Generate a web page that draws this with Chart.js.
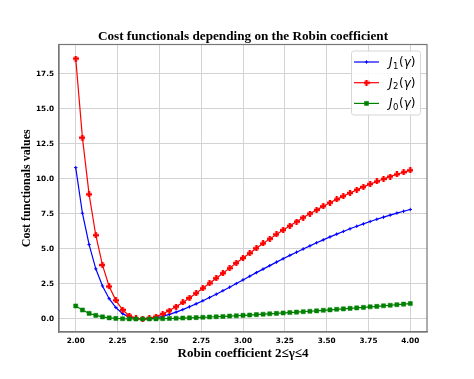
<!DOCTYPE html>
<html>
<head>
<meta charset="utf-8">
<script src="https://cdn.jsdelivr.net/npm/chart.js@4"></script>
<style>
html,body{margin:0;padding:0;background:#fff;}
#wrap{width:474px;height:379px;}
</style>
</head>
<body>
<div id="wrap"><canvas id="c" width="474" height="379"></canvas></div>
<script>
const gamma = [2.00,2.04,2.08,2.12,2.16,2.20,2.24,2.28,2.32,2.36,2.40,2.44,2.48,2.52,2.56,2.60,2.64,2.68,2.72,2.76,2.80,2.84,2.88,2.92,2.96,3.00,3.04,3.08,3.12,3.16,3.20,3.24,3.28,3.32,3.36,3.40,3.44,3.48,3.52,3.56,3.60,3.64,3.68,3.72,3.76,3.80,3.84,3.88,3.92,3.96,4.00];
const J1 = [10.81,7.55,5.31,3.58,2.36,1.45,0.82,0.38,0.13,0.02,0.00,0.02,0.08,0.19,0.33,0.49,0.67,0.87,1.08,1.30,1.53,1.77,2.02,2.27,2.53,2.79,3.05,3.31,3.56,3.81,4.06,4.30,4.54,4.77,5.00,5.22,5.44,5.65,5.86,6.06,6.25,6.44,6.62,6.79,6.96,7.12,7.27,7.42,7.56,7.69,7.82];
const J2 = [18.60,12.95,8.90,5.98,3.85,2.32,1.33,0.65,0.24,0.04,0.00,0.05,0.17,0.36,0.60,0.88,1.18,1.50,1.84,2.19,2.55,2.91,3.27,3.63,3.99,4.35,4.70,5.05,5.39,5.72,6.04,6.35,6.65,6.95,7.24,7.52,7.79,8.05,8.30,8.54,8.77,9.00,9.22,9.43,9.63,9.82,10.00,10.17,10.33,10.48,10.62];
const J0 = [0.93,0.64,0.40,0.26,0.15,0.08,0.04,0.015,0.004,0.0,0.0,0.003,0.01,0.02,0.035,0.05,0.065,0.08,0.10,0.12,0.14,0.16,0.18,0.21,0.23,0.26,0.28,0.31,0.34,0.37,0.40,0.43,0.46,0.49,0.52,0.55,0.58,0.62,0.65,0.69,0.72,0.76,0.79,0.83,0.87,0.90,0.94,0.98,1.02,1.06,1.10];
const xTicks = [2.00,2.25,2.50,2.75,3.00,3.25,3.50,3.75,4.00];
const yTicks = [0.0,2.5,5.0,7.5,10.0,12.5,15.0,17.5];
const seriesNames = [['J','1'],['J','2'],['J','0']];

// filled plus marker (matplotlib 'P')
function plusMarker(size, color){
  const c = document.createElement('canvas');
  c.width = size; c.height = size;
  const g = c.getContext('2d');
  g.fillStyle = color;
  const a = size*0.4, o = (size-a)/2;
  g.fillRect(o,0,a,size);
  g.fillRect(0,o,size,a);
  return c;
}
const redPlus = plusMarker(6,'#ff0000');

const blue='#0000ff', red='#ff0000', green='#008000';

const legendPlugin = {
  id:'mplLegend',
  afterDraw(chart){
    const ctx = chart.ctx, ca = chart.chartArea;
    const w=70, h=65;
    const x0 = ca.right-6-w, y0 = ca.top+6;
    ctx.save();
    ctx.fillStyle='rgba(255,255,255,0.85)';
    ctx.strokeStyle='#d6d6d6';
    ctx.lineWidth=1;
    const r=3;
    ctx.beginPath();
    ctx.moveTo(x0+r,y0+0.5);ctx.lineTo(x0+w-r,y0+0.5);ctx.quadraticCurveTo(x0+w-0.5,y0+0.5,x0+w-0.5,y0+r);
    ctx.lineTo(x0+w-0.5,y0+h-r);ctx.quadraticCurveTo(x0+w-0.5,y0+h-0.5,x0+w-r,y0+h-0.5);
    ctx.lineTo(x0+r,y0+h-0.5);ctx.quadraticCurveTo(x0+0.5,y0+h-0.5,x0+0.5,y0+h-r);
    ctx.lineTo(x0+0.5,y0+r);ctx.quadraticCurveTo(x0+0.5,y0+0.5,x0+r,y0+0.5);
    ctx.closePath();ctx.fill();ctx.stroke();
    chart.data.datasets.forEach((ds,i)=>{
      const yy = y0+11.5+i*20.7;
      const lx0 = x0+3, lx1 = x0+28, mx=(lx0+lx1)/2;
      ctx.strokeStyle = ds.borderColor; ctx.lineWidth = ds.borderWidth;
      ctx.beginPath(); ctx.moveTo(lx0,yy); ctx.lineTo(lx1,yy); ctx.stroke();
      if (ds.pointStyle instanceof HTMLCanvasElement){
        ctx.drawImage(ds.pointStyle, mx-ds.pointStyle.width/2, yy-ds.pointStyle.height/2);
      } else {
        ctx.fillStyle=ds.pointBackgroundColor; ctx.strokeStyle=ds.pointBorderColor; ctx.lineWidth=ds.pointBorderWidth||1;
        Chart.helpers.drawPoint(ctx,{pointStyle:ds.pointStyle,radius:ds.pointRadius,borderWidth:ds.pointBorderWidth||1},mx,yy);
      }
      const nm = seriesNames[i];
      let tx = x0+38;
      ctx.fillStyle='#000'; ctx.textBaseline='alphabetic'; ctx.textAlign='left';
      const base = yy+4;
      ctx.font='italic 12px "DejaVu Sans"'; ctx.fillText(nm[0],tx,base); tx+=ctx.measureText(nm[0]).width+0.5;
      ctx.font='8.5px "DejaVu Sans"'; ctx.fillText(nm[1],tx,base+2.5); tx+=ctx.measureText(nm[1]).width+0.5;
      ctx.font='12px "DejaVu Sans"'; ctx.fillText('(',tx,base); tx+=ctx.measureText('(').width;
      ctx.font='italic 12px "DejaVu Sans"'; ctx.fillText('γ',tx,base); tx+=ctx.measureText('γ').width;
      ctx.font='12px "DejaVu Sans"'; ctx.fillText(')',tx,base);
    });
    ctx.restore();
  }
};

const framePlugin = {
  id:'frame',
  afterDatasetsDraw(chart){
    const ctx = chart.ctx, ca = chart.chartArea;
    ctx.save();
    ctx.strokeStyle='#777777'; ctx.lineWidth=1.2;
    ctx.strokeRect(ca.left, ca.top, ca.right-ca.left, ca.bottom-ca.top);
    ctx.restore();
  }
};

const pts = arr => gamma.map((g,i)=>({x:g,y:arr[i]}));

new Chart(document.getElementById('c'),{
  type:'line',
  data:{datasets:[
    {label:'J1(γ)',data:pts(J1),borderColor:blue,backgroundColor:blue,borderWidth:1.2,pointStyle:'cross',pointRadius:1.7,pointBorderWidth:1,pointBorderColor:blue,pointBackgroundColor:blue,order:3},
    {label:'J2(γ)',data:pts(J2),borderColor:red,backgroundColor:red,borderWidth:1.2,pointStyle:redPlus,pointRadius:3,pointBorderColor:red,pointBackgroundColor:red,order:2},
    {label:'J0(γ)',data:pts(J0),borderColor:green,backgroundColor:green,borderWidth:1.2,pointStyle:'rect',pointRadius:2.9,pointBorderWidth:0.5,pointBorderColor:green,pointBackgroundColor:green,order:1}
  ]},
  options:{
    responsive:false,animation:false,
    layout:{padding:{top:28,left:19,right:47,bottom:18}},
    plugins:{
      legend:{display:false},tooltip:{enabled:false},
      title:{display:true,fullSize:false,text:'Cost functionals depending on the Robin coefficient',color:'#000',
        font:{family:'"Liberation Serif"',size:13.2,weight:'bold',lineHeight:1.25},padding:{top:0,bottom:0}}
    },
    elements:{line:{tension:0}},
    scales:{
      x:{type:'linear',min:1.9,max:4.1,
        afterBuildTicks:a=>{a.ticks=xTicks.map(v=>({value:v}));},
        afterFit:a=>{a.height=29;},
        grid:{color:'#d3d3d3',lineWidth:1,drawTicks:false},
        border:{color:'#777777',width:1.2},
        ticks:{color:'#000',padding:5,maxRotation:0,font:{family:'"DejaVu Sans"',size:7.3,weight:'bold'},callback:v=>v.toFixed(2)},
        title:{display:true,text:'Robin coefficient 2≤γ≤4',color:'#000',padding:0,font:{family:'"Liberation Serif"',size:13,weight:'bold',lineHeight:1.2}}
      },
      y:{type:'linear',min:-0.93,max:19.6,
        afterBuildTicks:a=>{a.ticks=yTicks.map(v=>({value:v}));},
        afterFit:a=>{a.width=40;},
        grid:{color:'#d3d3d3',lineWidth:1,drawTicks:false},
        border:{color:'#777777',width:1.2},
        ticks:{color:'#000',padding:5,font:{family:'"DejaVu Sans"',size:7.3,weight:'bold'},callback:v=>v.toFixed(1)},
        title:{display:true,text:'Cost functionals values',color:'#000',padding:0,font:{family:'"Liberation Serif"',size:12,weight:'bold',lineHeight:1.4}}
      }
    }
  },
  plugins:[framePlugin,legendPlugin]
});
</script>
</body>
</html>
